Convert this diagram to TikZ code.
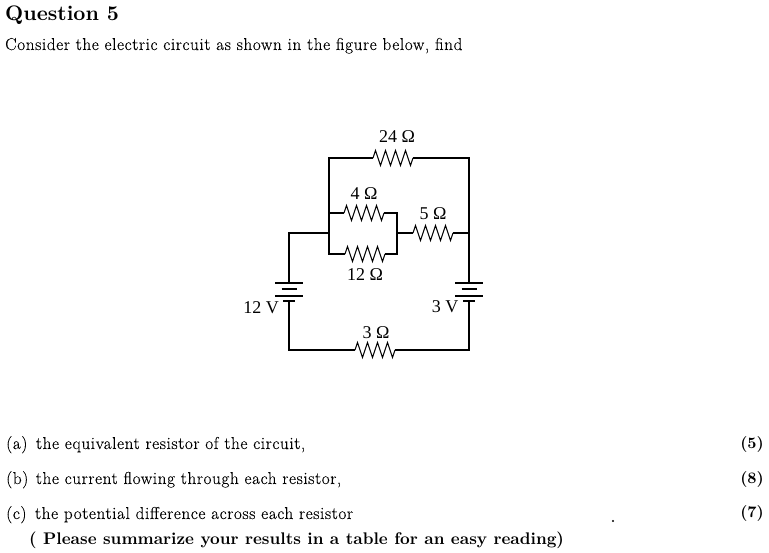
\documentclass[tikz,border=0pt]{standalone}
\usepackage{fontspec}
\newfontfamily\circfont{Liberation Serif}
\newfontfamily\bodyfont{Latin Modern Roman}[FakeBold=0.15,LetterSpace=3.5]
\newfontfamily\strongfont{lmroman10-bold.otf}
\usetikzlibrary{decorations.pathmorphing}
\tikzset{
  x=1pt,y=-1pt,
  wire/.style={line width=1.05pt,black},
  resistor/.style={wire,decorate,decoration={zigzag,segment length=10pt,amplitude=7.5pt}},
  plate/.style={line width=1.1pt,black},
  platethick/.style={line width=2pt,black},
  val/.style={font=\circfont\fontsize{18}{18}\selectfont,inner sep=0pt},
  title/.style={anchor=base west,inner sep=0pt,font=\strongfont\fontsize{21}{22}\selectfont},
  body/.style={anchor=base west,inner sep=0pt,font=\bodyfont\fontsize{17.2}{17}\selectfont},
  marks/.style={anchor=base east,inner sep=0pt,font=\strongfont\fontsize{16}{16}\selectfont},
  note/.style={anchor=base west,inner sep=0pt,font=\strongfont\fontsize{16.85}{18}\selectfont},
}
\begin{document}
\begin{tikzpicture}
\useasboundingbox (0,0) rectangle (769,553);
% junctions
\coordinate (tl) at (329,158);
\coordinate (tr) at (469,158);
\coordinate (l4) at (329,213);
\coordinate (r4) at (397,213);
\coordinate (lm) at (329,233);
\coordinate (rm) at (397,233);
\coordinate (rr) at (469,233);
\coordinate (l12) at (329,254);
\coordinate (r12) at (397,254);
\coordinate (ol) at (289,233);
\coordinate (bl) at (289,350);
\coordinate (br) at (469,350);
% resistor ends
\coordinate (a24) at (373,158); \coordinate (b24) at (413,158);
\coordinate (a4) at (344,213);  \coordinate (b4) at (384,213);
\coordinate (a5) at (413,233);  \coordinate (b5) at (453,233);
\coordinate (a12) at (345,254); \coordinate (b12) at (385,254);
\coordinate (a3) at (355,350);  \coordinate (b3) at (395,350);
% batteries
\coordinate (ba1) at (289,283); \coordinate (bb1) at (289,289.5);
\coordinate (bc1) at (289,296); \coordinate (bd1) at (289,301);
\coordinate (ba2) at (469,283); \coordinate (bb2) at (469,289.5);
\coordinate (bc2) at (469,296); \coordinate (bd2) at (469,301);
% wires
\draw[wire] (a24) -- (tl) -- (l12) -- (a12);
\draw[wire] (b24) -- (tr) -- (ba2);
\draw[wire] (l4) -- (a4);
\draw[wire] (b4) -- (r4) -- (r12) -- (b12);
\draw[wire] (rm) -- (a5);
\draw[wire] (b5) -- (rr);
\draw[wire] (lm) -- (ol) -- (ba1);
\draw[wire] (bd1) -- (bl) -- (a3);
\draw[wire] (b3) -- (br) -- (bd2);
% resistors
\draw[resistor] (a24) -- (b24);
\draw[resistor] (a4) -- (b4);
\draw[resistor] (a5) -- (b5);
\draw[resistor] (a12) -- (b12);
\draw[resistor] (a3) -- (b3);
% battery plates
\foreach \n in {1,2}{
  \draw[plate] ([xshift=-14pt]ba\n) -- ([xshift=14pt]ba\n);
  \draw[platethick] ([xshift=-7.5pt]bb\n) -- ([xshift=7.5pt]bb\n);
  \draw[plate] ([xshift=-14pt]bc\n) -- ([xshift=14pt]bc\n);
  \draw[platethick] ([xshift=-6pt]bd\n) -- ([xshift=6pt]bd\n);
}
% values
\node[val] (v24) at (397,137) {24 Ω};
\node[val] (v4) at (364,194) {4 Ω};
\node[val] (v5) at (433,214) {5 Ω};
\node[val] (v12) at (365,275) {12 Ω};
\node[val] (v3) at (376,333) {3 Ω};
\node[val] (e12) at (261,308) {12 V};
\node[val] (e3) at (445,307) {3 V};
% text
\node[title] (q) at (5,20.5) {Question 5};
\node[body] (intro) at (5,50) {Consider the electric circuit as shown in the figure below, find};
\node[body] (pa) at (6,449) {(a)\hspace{8.5pt}the equivalent resistor of the circuit,};
\node[body] (pb) at (6,484) {(b)\hspace{7.5pt}the current flowing through each resistor,};
\node[body] (pc) at (6,519) {(c)\hspace{8.5pt}the potential difference across each resistor};
\node[marks] (m5) at (764,449) {(5)};
\node[marks] (m8) at (764,483) {(8)};
\node[marks] (m7) at (764,517) {(7)};
\node[note] (nt) at (29,544) {( Please summarize your results in a table for an easy reading)};
\fill (613,521) circle (1.2pt);
\end{tikzpicture}
\end{document}
